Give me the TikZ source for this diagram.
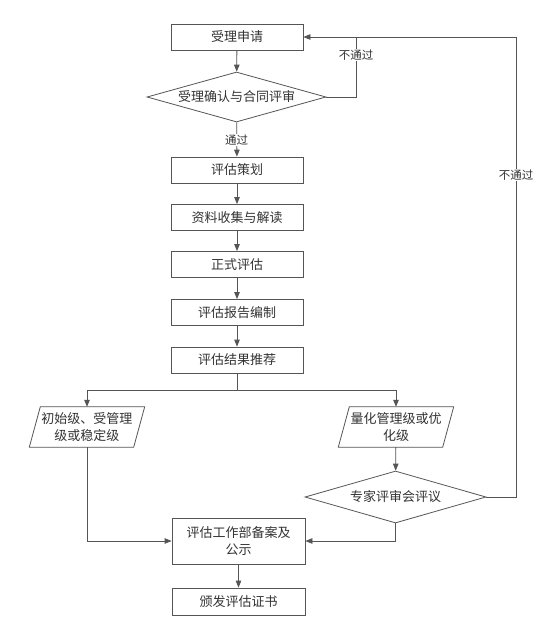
\documentclass[tikz,border=0pt]{standalone}
\usepackage{fontspec}
\setmainfont{Noto Sans CJK SC}
\usetikzlibrary{shapes.geometric,arrows.meta}
\definecolor{linec}{HTML}{555555}
\definecolor{txt}{HTML}{333333}
\begin{document}
\begin{tikzpicture}[x=1pt,y=-1pt,
  box/.style={draw=linec, fill=white, line width=0.8pt, minimum width=132pt, minimum height=26pt, inner sep=0pt, align=center, text=txt, font=\fontsize{13}{17}\selectfont},
  dia/.style={draw=linec, fill=white, line width=0.8pt, shape=diamond, aspect=3.5, inner sep=0pt, minimum height=50pt, text=txt, font=\fontsize{13}{17}\selectfont},
  para/.style={minimum width=115pt, minimum height=40pt, inner sep=0pt, align=center, text=txt, font=\fontsize{13}{17}\selectfont},
  paraline/.style={draw=linec, line width=0.8pt},
  conn/.style={draw=linec, line width=0.8pt},
  arr/.style={conn, -{Triangle[length=7pt,width=5.5pt]}},
  lbl/.style={fill=white, inner sep=1pt, text=txt, font=\fontsize{11.5}{13}\selectfont}
]
\fill[white] (0,0) rectangle (548,638);
\useasboundingbox (0,0) rectangle (548,638);

\node[box] (a) at (237,37) {受理申请};
\node[dia, minimum width=179pt] (b) at (236.5,97) {受理确认与合同评审};
\node[box] (c) at (237,170) {评估策划};
\node[box] (d) at (237,217.5) {资料收集与解读};
\node[box] (e) at (237,264.5) {正式评估};
\node[box] (f) at (237,312.5) {评估报告编制};
\node[box] (g) at (237,360) {评估结果推荐};
\node[para] (h) at (87,427) {初始级、受管理\\级或稳定级};
\node[para] (i) at (396,427) {量化管理级或优\\化级};
\node[dia, minimum width=181pt, minimum height=52pt] (j) at (395.5,497) {专家评审会评议};
\node[box, minimum width=133pt, minimum height=46pt] (k) at (238.5,541) {评估工作部备案及\\公示};
\node[box, minimum width=133pt, minimum height=27pt] (l) at (238.5,601.5) {颁发评估证书};

\draw[paraline] ([xshift=11pt]h.north west) -- (h.north east) -- ([xshift=-11pt]h.south east) -- (h.south west) -- cycle;
\draw[paraline] ([xshift=11pt]i.north west) -- (i.north east) -- ([xshift=-11pt]i.south east) -- (i.south west) -- cycle;

\coordinate (r1) at (356,37);
\coordinate (r2) at (516,37);
\coordinate (br) at (237,390);

\draw[arr] (a) -- (b);
\draw[arr] (b) -- (c);
\node[lbl] (t1) at (236.5,140) {通过};
\draw[conn] (b.east) -| (r1);
\node[lbl] (t2) at (356,55) {不通过};
\draw[arr] (j.east) -| (r2) -- (a.east);
\node[lbl] (t3) at (516,175) {不通过};

\draw[arr] (c) -- (d);
\draw[arr] (d) -- (e);
\draw[arr] (e) -- (f);
\draw[arr] (f) -- (g);
\draw[conn] (g.south) -- (br);
\draw[arr] (br) -| (h.north);
\draw[arr] (br) -| (i.north);
\draw[arr] (i) -- (j);
\draw[arr] (h.south) |- (k.west);
\draw[arr] (j.south) |- (k.east);
\draw[arr] (k) -- (l);
\end{tikzpicture}
\end{document}
